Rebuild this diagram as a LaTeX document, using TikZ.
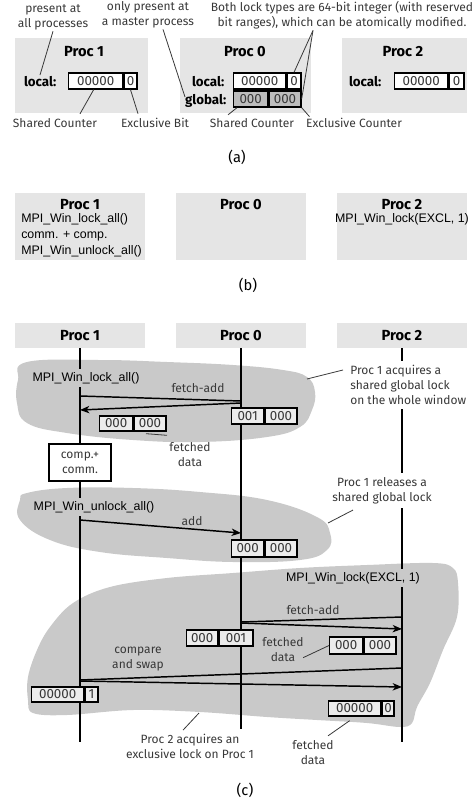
\documentclass[tikz,border=0pt]{standalone}
\usepackage{fontspec}
\setmainfont{Fira Sans}
\newfontfamily\mpifont{Liberation Sans}
\usetikzlibrary{positioning, calc, arrows.meta}
\definecolor{boxgray}{HTML}{E5E5E5}
\definecolor{blobgray}{HTML}{C9C9C9}
\definecolor{reggray}{HTML}{BDBDBD}
\definecolor{cellgray}{HTML}{ECECEC}
\definecolor{txtgray}{HTML}{383838}

\begin{document}
\begin{tikzpicture}[x=0.75pt, y=-0.75pt, >={Stealth[length=7pt, width=5.5pt, inset=2pt]},
    panel/.style={fill=boxgray, inner sep=0pt},
    ttl/.style={font=\fontsize{11}{13}\selectfont\bfseries},
    key/.style={font=\fontsize{10}{12}\selectfont\bfseries, inner sep=1pt},
    lbl/.style={font=\fontsize{9}{11.25}\selectfont, text=txtgray, align=center, inner sep=1pt},
    mpi/.style={font=\mpifont\fontsize{9.3}{12}\selectfont, inner sep=2.5pt},
    cell/.style={draw, line width=1pt, fill=white, minimum height=12pt, inner sep=0pt,
        font=\fontsize{10}{12}\selectfont, text=txtgray},
    life/.style={line width=1.1pt},
    msg/.style={line width=1.1pt},
    lead/.style={line width=0.6pt, txtgray},
    blob/.style={fill=blobgray}]
\useasboundingbox (0,0) rectangle (474,804);

% ---------- (a) ----------
\node[panel, minimum width=99.75pt, minimum height=56.25pt] (a1) at (81.5,75.5) {};
\node[panel, minimum width=98.25pt, minimum height=56.25pt] (a0) at (245.5,75.5) {};
\node[panel, minimum width=93.75pt, minimum height=56.25pt] (a2) at (404.5,75.5) {};
\node[ttl] (a1t) at (84,52) {Proc 1};
\node[ttl] (a0t) at (245,52) {Proc 0};
\node[ttl] (a2t) at (403,52) {Proc 2};

\node[key, anchor=east] (k1) at (58,82) {local:};
\node[key, anchor=east] (k0) at (226,82) {local:};
\node[key, anchor=east] (g0) at (228,101) {global:};
\node[key, anchor=east] (k2) at (383,82) {local:};

\node[cell, minimum width=40.5pt, anchor=west] (l1a) at (68,81) {00000};
\node[cell, minimum width=9.75pt, right=0pt of l1a] (l1b) {0};
\node[cell, minimum width=39pt, anchor=west] (l0a) at (233,81) {00000};
\node[cell, minimum width=10.5pt, right=0pt of l0a] (l0b) {0};
\node[cell, fill=reggray, minimum width=25.5pt, anchor=west] (g0a) at (233,99) {000};
\node[cell, fill=reggray, minimum width=24pt, right=0pt of g0a] (g0b) {000};
\node[cell, minimum width=39.75pt, anchor=west] (l2a) at (394,81) {00000};
\node[cell, minimum width=11.25pt, right=0pt of l2a] (l2b) {0};

\node[lbl] (pres) at (53,17) {present at\\all processes};
\node[lbl] (mast) at (148,14.5) {only present at\\a master process};
\node[lbl] (both) at (342,15) {Both lock types are 64-bit integer (with reserved\\bit ranges), which can be atomically modified.};
\node[lbl] (sc1) at (55,123) {Shared Counter};
\node[lbl] (eb1) at (155,123) {Exclusive Bit};
\node[lbl] (sc0) at (252,123) {Shared Counter};
\node[lbl] (ec0) at (354,123) {Exclusive Counter};

\coordinate (presend) at (40,75);
\coordinate (mastend) at (185,97);
\draw[lead] (pres.south) -- (presend);
\draw[lead] ($(mast.south)+(15,0)$) -- (mastend);
\draw[lead] ($(both.south)+(-29,0)$) -- (l0b.north);
\draw[lead] ($(both.south)+(-29,0)$) -- (g0b.east);
\draw[lead] ($(sc1.north)+(25,-3)$) -- ($(l1a.south)+(-2,0)$);
\draw[lead] ($(eb1.north)+(-17,-3)$) -- (l1b.south);
\draw[lead] ($(sc0.north)+(-24,-2)$) -- ($(g0a.south west)+(4,0)$);
\draw[lead] ($(ec0.north west)+(5,0)$) -- (g0b.south east);

\node[font=\fontsize{11}{13}\selectfont] (capa) at (237,157) {(a)};

% ---------- (b) ----------
\node[panel, minimum width=97.5pt, minimum height=50.25pt] (b1) at (80,226.5) {};
\node[panel, minimum width=97.5pt, minimum height=50.25pt] (b0) at (241,226.5) {};
\node[panel, minimum width=97.5pt, minimum height=50.25pt] (b2) at (402,226.5) {};
\node[ttl] (b1t) at (80,205) {Proc 1};
\node[ttl] (b0t) at (241,205) {Proc 0};
\node[ttl] (b2t) at (402,205) {Proc 2};
\node[mpi, align=left, anchor=west, inner sep=0pt] (b1x) at (21,235)
    {MPI\_Win\_lock\_all()\\comm. + comp.\\MPI\_Win\_unlock\_all()};
\node[mpi, inner sep=0pt] (b2x) at (402,219) {MPI\_Win\_lock(EXCL, 1)};
\node[font=\fontsize{11}{13}\selectfont] (capb) at (248,285) {(b)};

% ---------- (c) ----------
\node[panel, ttl, minimum width=97.5pt, minimum height=18.75pt] (c1) at (80,335.5) {Proc 1};
\node[panel, ttl, minimum width=97.5pt, minimum height=18.75pt] (c0) at (241,335.5) {Proc 0};
\node[panel, ttl, minimum width=97.5pt, minimum height=18.75pt] (c2) at (402,335.5) {Proc 2};

% lock regions
\fill[blob] plot[smooth cycle, tension=0.7] coordinates {(27,362) (100,360) (167,362) (233,365)
    (283,370) (307,377) (315,392) (312,410) (300,427) (267,437) (200,442) (133,440) (67,433)
    (27,423) (17,403) (18,380)};
\fill[blob] plot[smooth cycle, tension=0.7] coordinates {(27,493) (67,488) (133,488) (200,492)
    (267,500) (317,517) (330,533) (327,550) (300,560) (233,562) (167,558) (100,552) (50,540)
    (20,520) (20,500)};
\fill[blob] plot[smooth cycle, tension=0.6] coordinates {(453,568) (433,563) (367,565) (300,568)
    (233,573) (167,578) (110,587) (73,603) (50,627) (37,650) (28,677) (28,700) (33,713) (67,715)
    (133,710) (200,712) (267,717) (317,720) (367,723) (400,727) (412,723) (417,707) (430,683)
    (443,650) (457,617) (458,583)};

% lifelines
\coordinate (e1) at (80,742);
\coordinate (e0) at (241,729);
\coordinate (e2) at (402,742);
\draw[life] (c1.south) -- (e1);
\draw[life] (c0.south) -- (e0);
\draw[life] (c2.south) -- (e2);

% messages
\coordinate (p1a) at (80,396);  \coordinate (p0a) at (241,401);
\coordinate (p0b) at (241,403); \coordinate (p1b) at (80,410);
\coordinate (p1c) at (80,520);  \coordinate (p0c) at (241,533);
\coordinate (p2d) at (402,617); \coordinate (p0d) at (241,622);
\coordinate (p0e) at (241,623); \coordinate (p2e) at (402,629);
\coordinate (p2f) at (402,668); \coordinate (p1f) at (80,680);
\coordinate (p1g) at (80,681);  \coordinate (p2g) at (402,687);
\draw[msg] (p1a) -- (p0a);
\draw[msg, ->] (p0b) -- (p1b);
\draw[msg, ->] (p1c) -- (p0c);
\draw[msg] (p2d) -- (p0d);
\draw[msg, ->] (p0e) -- (p2e);
\draw[msg] (p2f) -- (p1f);
\draw[msg, ->] (p1g) -- (p2g);

% labels
\node[mpi, fill=blobgray] (lk1) at (86,378) {MPI\_Win\_lock\_all()};
\node[mpi, fill=blobgray] (ulk) at (94,507) {MPI\_Win\_unlock\_all()};
\node[mpi, fill=blobgray] (lk2) at (353,578) {MPI\_Win\_lock(EXCL, 1)};
\node[lbl] (fa1) at (198,388) {fetch-add};
\node[lbl] (ad) at (192,521) {add};
\node[lbl] (fa2) at (313,610) {fetch-add};
\node[lbl] (cas) at (138,659.5) {compare\\and swap};
\node[lbl] (fd1) at (190,455) {fetched\\data};
\node[lbl] (fd2) at (283,650) {fetched\\data};
\node[lbl] (fd3) at (313,752.5) {fetched\\data};
\node[lbl, align=left, anchor=west, fill=white, inner sep=3pt] (acq) at (346,385)
    {Proc 1 acquires a\\shared global lock\\on the whole window};
\node[lbl, fill=white, inner sep=3pt] (rel) at (382,490.5) {Proc 1 releases a\\shared global lock};
\node[lbl] (acq2) at (190,746) {Proc 2 acquires an\\exclusive lock on Proc 1};

\node[draw, line width=1.1pt, fill=white, lbl, minimum width=46.5pt, minimum height=27.75pt] (cc)
    at (80,462.5) {comp.+\\comm.};

% registers
\node[cell, fill=cellgray, minimum width=24pt, anchor=west] (r0a) at (231,416) {001};
\node[cell, fill=cellgray, minimum width=24pt, right=0pt of r0a] (r0b) {000};
\node[cell, fill=cellgray, minimum width=24.75pt, minimum height=11.25pt, anchor=west] (f1a) at (99,423.5) {000};
\node[cell, fill=cellgray, minimum width=24pt, minimum height=11.25pt, right=0pt of f1a] (f1b) {000};
\node[cell, fill=cellgray, minimum width=24pt, minimum height=12.75pt, anchor=west] (s0a) at (231,548.5) {000};
\node[cell, fill=cellgray, minimum width=24pt, minimum height=12.75pt, right=0pt of s0a] (s0b) {000};
\node[cell, fill=cellgray, minimum width=23.25pt, anchor=west] (t0a) at (186,638) {000};
\node[cell, fill=cellgray, minimum width=25.5pt, right=0pt of t0a] (t0b) {001};
\node[cell, fill=cellgray, minimum width=24.75pt, minimum height=12.75pt, anchor=west] (f2a) at (329,645.5) {000};
\node[cell, fill=cellgray, minimum width=24pt, minimum height=12.75pt, right=0pt of f2a] (f2b) {000};
\node[cell, fill=cellgray, minimum width=39pt, minimum height=11.25pt, anchor=west] (u1a) at (31,694.5) {00000};
\node[cell, fill=cellgray, minimum width=9.75pt, minimum height=11.25pt, right=0pt of u1a] (u1b) {1};
\node[cell, fill=cellgray, minimum width=39pt, minimum height=11.25pt, anchor=west] (f3a) at (328,708.5) {00000};
\node[cell, fill=cellgray, minimum width=9pt, minimum height=11.25pt, right=0pt of f3a] (f3b) {0};

% leaders
\coordinate (acqend) at (307,379);
\coordinate (relend) at (328,523);
\coordinate (acq2end) at (199,713);
\draw[lead] ($(acq.west)+(-3,-15)$) -- (acqend);
\draw[lead] ($(rel.south)+(-29,2)$) -- (relend);
\draw[lead] ($(fd1.north)+(-23,-6)$) -- ($(f1b.south)+(-4,2)$);
\draw[lead] ($(fd2.south east)+(-2,-6)$) -- (f2a.west);
\draw[lead] ($(fd3.north)+(15,-3)$) -- ($(f3a.south)+(-5,4)$);
\draw[lead] ($(acq2.north)+(-7,-2)$) -- (acq2end);

\node[font=\fontsize{11}{13}\selectfont] (capc) at (245,790) {(c)};
\end{tikzpicture}
\end{document}
